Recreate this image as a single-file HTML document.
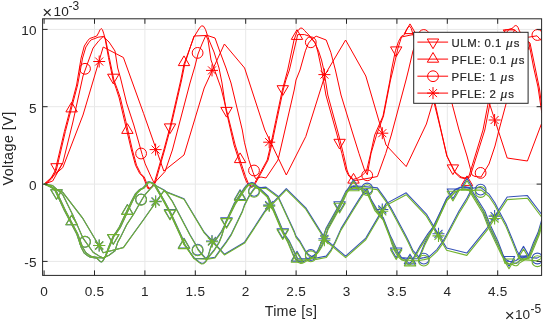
<!DOCTYPE html>
<html><head><meta charset="utf-8"><title>Voltage plot</title>
<style>html,body{margin:0;padding:0;background:#fff;}body{width:550px;height:325px;overflow:hidden;}svg{display:block;filter:blur(0.3px);}</style>
</head><body>
<svg width="550" height="325" viewBox="0 0 550 325">
<rect width="550" height="325" fill="#fff"/>
<g stroke="#e8e8e8" stroke-width="1" fill="none"><line x1="94.5" y1="18.8" x2="94.5" y2="275.4"/><line x1="144.9" y1="18.8" x2="144.9" y2="275.4"/><line x1="195.3" y1="18.8" x2="195.3" y2="275.4"/><line x1="245.7" y1="18.8" x2="245.7" y2="275.4"/><line x1="296.1" y1="18.8" x2="296.1" y2="275.4"/><line x1="346.5" y1="18.8" x2="346.5" y2="275.4"/><line x1="396.9" y1="18.8" x2="396.9" y2="275.4"/><line x1="447.3" y1="18.8" x2="447.3" y2="275.4"/><line x1="497.7" y1="18.8" x2="497.7" y2="275.4"/><line x1="42.6" y1="29.4" x2="541.6" y2="29.4"/><line x1="42.6" y1="106.7" x2="541.6" y2="106.7"/><line x1="42.6" y1="184.1" x2="541.6" y2="184.1"/><line x1="42.6" y1="261.4" x2="541.6" y2="261.4"/></g>
<defs><clipPath id="cp"><rect x="42.6" y="18.8" width="499.0" height="256.59999999999997"/></clipPath></defs>
<g clip-path="url(#cp)">
<g fill="none" stroke="#ff0000" stroke-width="1.0" stroke-linejoin="round"><polyline points="44.0,184.1 47.0,182.5 51.0,178.0 55.2,170.7 64.4,131.4 71.1,105.9 76.6,85.0 81.1,58.0 84.3,46.0 87.4,41.2 89.5,38.6 93.7,37.1 96.8,36.0 98.6,32.8 100.0,29.8 101.2,28.5 102.4,29.6 103.6,33.2 105.0,38.0 108.5,57.7 113.1,80.0 116.2,88.8 119.2,98.0 124.6,121.2 131.4,150.0 135.5,165.2 139.7,173.5 143.2,177.0 145.2,181.9 146.6,186.0 148.0,188.8 150.8,188.0 154.2,183.2 163.8,150.0 170.0,127.0 180.8,80.0 184.0,64.0 188.5,52.0 194.0,37.0 197.0,32.0 199.5,28.0 201.5,25.8 203.5,26.2 205.5,29.5 207.0,34.0 209.0,40.0 214.0,52.0 219.0,68.0 222.0,83.0 226.0,110.0 234.0,145.0 240.1,163.8 244.4,176.7 246.6,182.1 248.7,185.3 251.9,187.5 255.2,182.1 267.2,160.0 270.5,146.0 275.9,120.2 282.3,90.0 285.0,80.0 287.7,70.0 294.0,40.0 296.9,32.0 299.0,29.3 300.8,28.0 302.4,28.3 304.5,30.5 306.9,33.1 310.8,36.9 314.6,42.3 318.5,50.8 321.5,60.0 323.8,70.0 327.8,95.0 338.7,135.0 343.3,153.5 347.0,170.0 348.8,174.7 353.5,179.3 358.0,178.0 362.8,174.9 366.5,171.0 370.3,155.0 374.7,135.0 383.0,116.0 390.0,80.0 391.5,70.0 395.4,50.8 398.5,41.5 401.5,36.2 404.6,34.6 406.5,30.0 408.3,26.8 409.8,26.3 411.3,28.5 414.0,38.0 420.0,60.0 428.0,85.0 435.0,103.0 441.0,130.0 447.0,156.0 455.0,172.0 461.0,177.0 465.0,178.0 469.0,176.0 483.0,130.0 488.0,104.0 496.0,70.0 502.0,45.0 506.0,33.0 509.0,29.5 512.0,28.6 513.6,26.8 515.2,25.6 516.6,25.7 518.0,27.4 519.4,31.0 524.0,37.0 528.8,42.3 533.5,67.0 538.0,87.0 541.8,113.0"/><polyline points="44.0,184.1 47.5,182.8 51.8,178.5 56.2,170.7 65.4,131.4 72.1,105.9 77.6,85.0 82.6,58.0 85.9,47.0 89.0,42.3 91.2,39.8 95.0,38.5 98.0,37.2 103.6,36.5 105.5,39.0 109.3,57.7 113.9,80.0 117.2,88.8 120.4,98.0 125.8,121.2 132.4,150.0 136.5,165.2 140.7,173.5 144.2,177.0 146.2,181.9 147.6,186.0 149.0,188.3 151.8,187.5 155.2,183.0 164.6,150.0 170.8,127.0 181.6,80.0 184.8,64.0 190.0,48.0 194.0,36.0 206.0,35.5 208.0,40.0 211.0,60.0 221.0,88.0 227.0,112.0 235.2,145.0 241.3,163.8 245.6,176.7 247.8,182.1 249.9,185.3 253.0,187.0 256.2,182.1 268.1,160.0 271.4,146.0 276.8,120.2 283.2,90.0 285.9,80.0 289.4,70.0 297.7,34.6 304.6,34.6 309.2,36.2 315.4,43.1 317.9,52.0 321.7,70.0 325.9,95.0 337.1,135.0 341.9,153.5 345.9,170.0 348.8,176.0 353.5,180.5 357.1,180.2 370.0,178.0 377.4,176.5 385.7,153.5 391.3,135.0 406.0,80.0 408.5,70.0 413.0,50.8 417.8,40.7 419.0,37.1 424.6,65.3 434.0,102.3 440.8,130.0 446.8,156.0 454.8,172.5 460.0,177.5 464.0,178.5 470.0,177.0 484.8,130.0 489.8,104.0 497.8,70.0 502.4,46.0 505.0,30.0 512.0,28.8 516.0,31.0 520.0,36.0 530.0,43.0 535.0,67.0 539.5,89.0 541.8,107.0"/><polyline points="44.0,184.1 52.7,181.0 62.8,163.0 72.9,122.0 83.0,76.0 93.1,48.0 98.9,40.7 103.2,36.5 109.0,42.0 115.0,51.0 117.7,68.0 120.5,78.0 126.6,103.0 133.8,125.0 142.2,154.5 145.2,163.9 150.8,176.3 154.2,183.2 165.0,171.5 172.4,150.0 190.0,83.0 195.0,66.0 198.0,54.0 202.0,44.0 206.0,35.0 215.0,38.0 220.0,52.0 226.0,68.0 231.0,83.0 242.3,130.0 244.4,142.2 248.7,159.5 253.0,172.4 255.5,178.5 261.0,177.0 266.0,178.0 278.0,160.0 281.5,145.0 294.2,90.0 296.0,80.0 300.0,70.0 305.4,50.8 308.5,43.1 312.0,39.0 316.2,36.2 326.2,40.0 330.8,52.3 335.4,70.0 341.0,95.0 352.6,133.0 359.0,153.5 364.5,170.0 367.3,174.7 371.0,153.5 376.5,135.0 383.5,116.0 390.5,80.0 393.0,70.0 398.0,48.0 401.5,37.0 409.0,35.4 413.0,34.6 419.0,35.0 424.0,37.0 429.5,39.5 436.9,53.1 443.1,70.3 451.7,102.3 459.0,130.0 467.0,156.0 472.0,175.0 475.0,176.5 481.0,177.0 489.0,164.0 495.0,146.0 499.0,130.0 506.0,104.0 512.0,75.0 517.0,50.0 521.0,38.0 529.1,37.1 537.0,35.8 541.4,40.8"/><polyline points="44.0,184.1 62.8,167.6 83.0,115.0 103.2,47.0 123.4,57.5 143.6,113.5 163.8,171.0 184.0,155.0 204.2,88.0 224.4,44.0 244.6,68.0 264.8,130.0 286.3,175.0 305.8,136.5 325.4,74.0 345.6,40.0 365.8,76.0 386.0,145.0 406.2,166.6 426.4,124.0 446.6,56.0 466.8,46.0 487.0,96.0 507.2,158.0 527.4,161.0 541.4,124.0"/><path d="M50.8,163.7H62.2L56.5,173.4Z"/><path d="M107.6,74.2H119.0L113.3,83.9Z"/><path d="M164.3,123.9H175.7L170.0,133.6Z"/><path d="M220.8,107.4H232.2L226.5,117.1Z"/><path d="M277.1,85.7H288.5L282.8,95.4Z"/><path d="M333.9,139.3H345.3L339.6,149.0Z"/><path d="M390.5,46.9H401.9L396.2,56.6Z"/><path d="M447.2,164.9H458.6L452.9,174.6Z"/><path d="M503.3,29.9H514.7L509.0,39.6Z"/><path d="M65.9,111.9H77.3L71.6,102.2Z"/><path d="M121.7,133.4H133.1L127.4,123.7Z"/><path d="M178.3,65.6H189.7L184.0,55.9Z"/><path d="M234.4,162.6H245.8L240.1,152.9Z"/><path d="M291.3,39.4H302.7L297.0,29.7Z"/><path d="M347.8,183.1H359.2L353.5,173.4Z"/><path d="M404.3,33.6H415.7L410.0,23.9Z"/><path d="M461.3,185.6H472.7L467.0,175.9Z"/><path d="M517.8,49.1H529.2L523.5,39.4Z"/><circle cx="85.0" cy="68.8" r="5.4"/><circle cx="141.1" cy="153.5" r="5.4"/><circle cx="197.6" cy="52.9" r="5.4"/><circle cx="254.0" cy="170.5" r="5.4"/><circle cx="310.8" cy="42.3" r="5.4"/><circle cx="367.2" cy="175.3" r="5.4"/><circle cx="423.8" cy="35.0" r="5.4"/><circle cx="480.6" cy="172.9" r="5.4"/><circle cx="537.4" cy="35.0" r="5.4"/><path d="M93.2,61.5H105.2M99.2,55.5V67.5M95.2,57.5L103.2,65.5M95.2,65.5L103.2,57.5"/><path d="M149.6,149.6H161.6M155.6,143.6V155.6M151.6,145.6L159.6,153.6M151.6,153.6L159.6,145.6"/><path d="M206.0,70.4H218.0M212.0,64.4V76.4M208.0,66.4L216.0,74.4M208.0,74.4L216.0,66.4"/><path d="M263.2,142.2H275.2M269.2,136.2V148.2M265.2,138.2L273.2,146.2M265.2,146.2L273.2,138.2"/><path d="M318.4,74.6H330.4M324.4,68.6V80.6M320.4,70.6L328.4,78.6M320.4,78.6L328.4,70.6"/><path d="M376.3,133.2H388.3M382.3,127.2V139.2M378.3,129.2L386.3,137.2M378.3,137.2L386.3,129.2"/><path d="M432.5,84.5H444.5M438.5,78.5V90.5M434.5,80.5L442.5,88.5M434.5,88.5L442.5,80.5"/><path d="M488.6,120.0H500.6M494.6,114.0V126.0M490.6,116.0L498.6,124.0M490.6,124.0L498.6,116.0"/></g>
<g fill="none" stroke="#3652b8" stroke-width="1.1" stroke-linejoin="round"><polyline points="44.00,184.10 47.00,184.90 51.00,187.15 55.20,190.80 64.40,210.45 71.10,223.20 76.60,233.65 81.10,247.16 84.30,253.17 87.40,255.59 89.50,256.90 93.70,257.68 96.80,258.23 98.60,259.83 100.00,261.33 101.20,261.98 102.40,261.43 103.60,259.63 105.00,257.23 108.50,247.38 113.10,236.23 116.20,231.83 119.20,227.22 124.60,215.62 131.40,201.22 135.50,193.62 139.70,189.47 143.20,187.71 145.20,185.26 146.60,183.21 148.00,181.81 150.80,182.21 154.20,184.61 163.80,201.21 170.00,212.70 180.80,236.20 184.00,244.20 188.50,250.19 194.00,257.69 197.00,260.19 199.50,262.19 201.50,263.29 203.50,263.09 205.50,261.44 207.00,259.19 209.00,256.19 214.00,250.18 219.00,242.18 222.00,234.68 226.00,221.18 234.00,203.67 240.10,194.27 244.40,187.82 246.60,185.12 248.70,183.52 251.90,182.42 255.20,185.12 267.20,196.16 270.50,203.16 275.90,216.06 282.30,231.15 285.00,236.15 287.70,241.15 294.00,256.15 296.90,260.15 299.00,261.50 300.80,262.15 302.40,261.99 304.50,260.89 306.90,259.59 310.80,257.69 314.60,254.99 318.50,250.74 321.50,246.14 323.80,241.14 327.80,228.63 338.70,208.63 343.30,199.38 347.00,191.13 348.80,188.77 353.50,186.47 358.00,187.12 362.80,188.67 366.50,190.62 370.30,198.62 374.70,208.61 383.00,218.11 390.00,236.11 391.50,241.11 395.40,250.70 398.50,255.35 401.50,258.00 404.60,258.80 406.50,261.10 408.30,262.70 409.80,262.95 411.30,261.85 414.00,257.10 420.00,246.09 428.00,233.59 435.00,224.59 441.00,211.08 447.00,198.08 455.00,190.08 461.00,187.58 465.00,187.07 469.00,188.07 483.00,211.07 488.00,224.06 496.00,241.06 502.00,253.56 506.00,259.56 509.00,261.30 512.00,261.75 513.60,262.65 515.20,263.25 516.60,263.20 518.00,262.35 519.40,260.55 524.00,257.55 528.80,254.90 533.50,242.54 538.00,232.54 541.80,219.54"/><polyline points="44.00,184.10 47.50,184.75 51.80,186.90 56.20,190.80 65.40,210.45 72.10,223.20 77.60,233.65 82.60,247.16 85.90,252.68 89.00,255.05 91.20,256.31 95.00,256.99 98.00,257.63 103.60,257.98 105.50,256.73 109.30,247.38 113.90,236.23 117.20,231.83 120.40,227.22 125.80,215.62 132.40,201.22 136.50,193.62 140.70,189.47 144.20,187.71 146.20,185.26 147.60,183.21 149.00,182.06 151.80,182.46 155.20,184.71 164.60,201.20 170.80,212.70 181.60,236.20 184.80,244.20 190.00,252.19 194.00,258.19 206.00,258.44 208.00,256.19 211.00,246.18 221.00,232.18 227.00,220.18 235.20,203.67 241.30,194.27 245.60,187.82 247.80,185.12 249.90,183.52 253.00,182.67 256.20,185.11 268.10,196.16 271.40,203.16 276.80,216.06 283.20,231.15 285.90,236.15 289.40,241.15 297.70,258.85 304.60,258.84 309.20,258.04 315.40,254.59 317.90,250.14 321.70,241.14 325.90,228.63 337.10,208.63 341.90,199.38 345.90,191.13 348.80,188.12 353.50,185.87 357.10,186.02 370.00,187.12 377.40,187.86 385.70,199.36 391.30,208.61 406.00,236.10 408.50,241.10 413.00,250.70 417.80,255.74 419.00,257.54 424.60,243.44 434.00,224.94 440.80,211.08 446.80,198.08 454.80,189.83 460.00,187.33 464.00,186.82 470.00,187.57 484.80,211.07 489.80,224.06 497.80,241.06 502.40,253.06 505.00,261.06 512.00,261.65 516.00,260.55 520.00,258.05 530.00,254.55 535.00,242.54 539.50,231.54 541.80,222.54"/><polyline points="44.00,184.10 52.70,185.65 62.80,194.65 72.90,215.15 83.00,238.17 93.10,252.22 98.90,255.88 103.20,257.98 109.00,255.23 115.00,250.73 117.70,242.23 120.50,237.22 126.60,224.72 133.80,213.72 142.20,198.96 145.20,194.26 150.80,188.06 154.20,184.61 165.00,190.45 172.40,201.20 190.00,234.69 195.00,243.19 198.00,249.19 202.00,254.19 206.00,258.69 215.00,257.18 220.00,250.18 226.00,242.18 231.00,234.68 242.30,211.17 244.40,205.07 248.70,196.42 253.00,189.97 255.50,186.92 261.00,187.66 266.00,187.16 278.00,196.16 281.50,203.65 294.20,231.15 296.00,236.15 300.00,241.15 305.40,250.74 308.50,254.59 312.00,256.64 316.20,258.04 326.20,256.13 330.80,249.98 335.40,241.13 341.00,228.63 352.60,209.62 359.00,199.37 364.50,191.12 367.30,188.77 371.00,199.36 376.50,208.61 383.50,218.11 390.50,236.11 393.00,241.11 398.00,252.10 401.50,257.60 409.00,258.40 413.00,258.80 419.00,258.59 424.00,257.59 429.50,256.34 436.90,249.54 443.10,240.93 451.70,224.93 459.00,211.08 467.00,198.07 472.00,188.57 475.00,187.82 481.00,187.57 489.00,194.06 495.00,203.06 499.00,211.06 506.00,224.06 512.00,238.55 517.00,251.05 521.00,257.05 529.10,257.50 537.00,258.14 541.40,255.64"/><polyline points="44.00,184.10 62.80,192.35 83.00,218.67 103.20,252.73 123.40,247.47 143.60,219.46 163.80,190.71 184.00,198.70 204.20,232.19 224.40,254.18 244.60,242.17 264.80,211.16 286.30,188.65 305.80,207.89 325.40,239.13 345.60,256.13 365.80,238.12 386.00,203.61 406.20,192.80 426.40,214.09 446.60,248.08 466.80,253.07 487.00,228.06 507.20,197.06 527.40,195.55 541.40,214.04"/><path d="M50.8,189.7H62.2L56.5,199.3Z"/><path d="M107.6,234.5H119.0L113.3,244.2Z"/><path d="M164.3,209.6H175.7L170.0,219.3Z"/><path d="M220.8,217.8H232.2L226.5,227.5Z"/><path d="M277.1,228.7H288.5L282.8,238.4Z"/><path d="M333.9,201.8H345.3L339.6,211.5Z"/><path d="M390.5,248.0H401.9L396.2,257.7Z"/><path d="M447.2,189.0H458.6L452.9,198.7Z"/><path d="M503.3,256.5H514.7L509.0,266.2Z"/><path d="M65.9,224.8H77.3L71.6,215.2Z"/><path d="M121.7,214.2H133.1L127.4,204.5Z"/><path d="M178.3,248.0H189.7L184.0,238.3Z"/><path d="M234.4,199.5H245.8L240.1,189.8Z"/><path d="M291.3,261.1H302.7L297.0,251.4Z"/><path d="M347.8,189.2H359.2L353.5,179.5Z"/><path d="M404.3,263.9H415.7L410.0,254.2Z"/><path d="M461.3,187.9H472.7L467.0,178.2Z"/><path d="M517.8,256.1H529.2L523.5,246.4Z"/><circle cx="85.0" cy="241.8" r="5.4"/><circle cx="141.1" cy="199.5" r="5.4"/><circle cx="197.6" cy="249.7" r="5.4"/><circle cx="254.0" cy="190.9" r="5.4"/><circle cx="310.8" cy="255.0" r="5.4"/><circle cx="367.2" cy="188.5" r="5.4"/><circle cx="423.8" cy="258.6" r="5.4"/><circle cx="480.6" cy="189.6" r="5.4"/><circle cx="537.4" cy="258.5" r="5.4"/><path d="M93.2,245.5H105.2M99.2,239.5V251.5M95.2,241.5L103.2,249.5M95.2,249.5L103.2,241.5"/><path d="M149.6,201.4H161.6M155.6,195.4V207.4M151.6,197.4L159.6,205.4M151.6,205.4L159.6,197.4"/><path d="M206.0,241.0H218.0M212.0,235.0V247.0M208.0,237.0L216.0,245.0M208.0,245.0L216.0,237.0"/><path d="M263.2,205.1H275.2M269.2,199.1V211.1M265.2,201.1L273.2,209.1M265.2,209.1L273.2,201.1"/><path d="M318.4,238.8H330.4M324.4,232.8V244.8M320.4,234.8L328.4,242.8M320.4,242.8L328.4,234.8"/><path d="M376.3,209.5H388.3M382.3,203.5V215.5M378.3,205.5L386.3,213.5M378.3,213.5L386.3,205.5"/><path d="M432.5,233.8H444.5M438.5,227.8V239.8M434.5,229.8L442.5,237.8M434.5,237.8L442.5,229.8"/><path d="M488.6,216.1H500.6M494.6,210.1V222.1M490.6,212.1L498.6,220.1M490.6,220.1L498.6,212.1"/></g>
<g fill="none" stroke="#72b32e" stroke-width="1.1" stroke-linejoin="round"><polyline points="44.00,184.10 47.00,184.90 51.00,187.15 55.20,190.80 64.40,210.45 71.10,223.20 76.60,233.65 81.10,247.16 84.30,253.17 87.40,255.59 89.50,256.90 93.70,257.68 96.80,258.25 98.60,259.86 100.00,261.36 101.20,262.02 102.40,261.48 103.60,259.68 105.00,257.29 108.50,247.46 113.10,236.34 116.20,231.96 119.20,227.37 124.60,215.80 131.40,201.44 135.50,193.87 139.70,189.74 143.20,188.01 145.20,185.57 146.60,183.53 148.00,182.14 150.80,182.55 154.20,184.97 163.80,201.63 170.00,213.16 180.80,236.72 184.00,244.74 188.50,250.77 194.00,258.30 197.00,260.81 199.50,262.83 201.50,263.94 203.50,263.75 205.50,262.11 207.00,259.87 209.00,256.88 214.00,250.91 219.00,242.94 222.00,235.46 226.00,221.98 234.00,204.52 240.10,195.16 244.40,188.73 246.60,186.05 248.70,184.46 251.90,183.38 255.20,186.10 267.20,197.21 270.50,204.23 275.90,217.16 282.30,232.30 285.00,237.31 287.70,242.33 294.00,257.37 296.90,261.38 299.00,262.74 300.80,263.40 302.40,263.26 304.50,262.18 306.90,260.89 310.80,259.01 314.60,256.33 318.50,252.11 321.50,247.52 323.80,242.54 327.80,230.06 338.70,210.12 343.30,200.90 347.00,192.67 348.80,190.33 353.50,188.05 358.00,188.73 362.80,190.31 366.50,192.28 370.30,200.30 374.70,210.32 383.00,219.87 390.00,237.91 391.50,242.92 395.40,252.54 398.50,257.21 401.50,259.88 404.60,260.69 406.50,263.01 408.30,264.62 409.80,264.87 411.30,263.78 414.00,259.05 420.00,248.08 428.00,235.63 435.00,226.67 441.00,213.20 447.00,200.24 455.00,192.28 461.00,189.81 465.00,189.34 469.00,190.36 483.00,213.44 488.00,226.47 496.00,243.51 502.00,256.05 506.00,262.07 509.00,263.84 512.00,264.30 513.60,265.21 515.20,265.82 516.60,265.78 518.00,264.94 519.40,263.15 524.00,260.17 528.80,257.55 533.50,245.23 538.00,235.25 541.80,222.27"/><polyline points="44.00,184.10 47.50,184.75 51.80,186.90 56.20,190.80 65.40,210.45 72.10,223.20 77.60,233.65 82.60,247.16 85.90,252.68 89.00,255.05 91.20,256.31 95.00,256.99 98.00,257.65 103.60,258.03 105.50,256.79 109.30,247.47 113.90,236.34 117.20,231.96 120.40,227.38 125.80,215.81 132.40,201.45 136.50,193.87 140.70,189.74 144.20,188.01 146.20,185.58 147.60,183.53 149.00,182.39 151.80,182.81 155.20,185.08 164.60,201.63 170.80,213.17 181.60,236.73 184.80,244.75 190.00,252.77 194.00,258.80 206.00,259.12 208.00,256.88 211.00,246.89 221.00,232.95 227.00,220.99 235.20,204.53 241.30,195.17 245.60,188.74 247.80,186.05 249.90,184.47 253.00,183.63 256.20,186.10 268.10,197.22 271.40,204.24 276.80,217.17 283.20,232.30 285.90,237.32 289.40,242.34 297.70,260.09 304.60,260.13 309.20,259.35 315.40,255.94 317.90,251.50 321.70,242.52 325.90,230.05 337.10,210.11 341.90,200.89 345.90,192.66 348.80,189.68 353.50,187.45 357.10,187.62 370.00,188.80 377.40,189.59 385.70,201.14 391.30,210.42 406.00,238.00 408.50,243.02 413.00,252.64 417.80,257.72 419.00,259.53 424.60,245.46 434.00,227.01 440.80,213.20 446.80,200.23 454.80,192.03 460.00,189.56 464.00,189.08 470.00,189.87 484.80,213.45 489.80,226.48 497.80,243.52 502.40,255.55 505.00,263.56 512.00,264.20 516.00,263.13 520.00,260.65 530.00,257.21 535.00,245.24 539.50,234.26 541.80,225.27"/><polyline points="44.00,184.10 52.70,185.65 62.80,194.65 72.90,215.15 83.00,238.17 93.10,252.22 98.90,255.91 103.20,258.03 109.00,255.31 115.00,250.85 117.70,242.36 120.50,237.38 126.60,224.91 133.80,213.96 142.20,199.25 145.20,194.57 150.80,188.40 154.20,184.97 165.00,190.88 172.40,201.67 190.00,235.27 195.00,243.80 198.00,249.82 202.00,254.84 206.00,259.37 215.00,257.92 220.00,250.95 226.00,242.98 231.00,235.51 242.30,212.07 244.40,205.98 248.70,197.36 253.00,190.93 255.50,187.90 261.00,188.68 266.00,188.21 278.00,197.27 281.50,204.79 294.20,232.37 296.00,237.38 300.00,242.40 305.40,252.03 308.50,255.90 312.00,257.97 316.20,259.39 326.20,257.55 330.80,251.43 335.40,242.60 341.00,230.13 352.60,211.20 359.00,200.99 364.50,192.77 367.30,190.43 371.00,201.05 376.50,210.33 383.50,219.87 390.50,237.91 393.00,242.93 398.00,253.96 401.50,259.48 409.00,260.32 413.00,260.74 419.00,260.58 424.00,259.60 429.50,258.39 436.90,251.63 443.10,243.06 451.70,227.11 459.00,213.30 467.00,200.35 472.00,190.88 475.00,190.14 481.00,189.93 489.00,196.47 495.00,205.51 499.00,213.53 506.00,226.57 512.00,241.10 517.00,253.63 521.00,259.66 529.10,260.15 537.00,260.85 541.40,258.37"/><polyline points="44.00,184.10 62.80,192.35 83.00,218.67 103.20,252.78 123.40,247.65 143.60,219.76 163.80,191.13 184.00,199.24 204.20,232.86 224.40,254.97 244.60,243.09 264.80,212.20 286.30,189.82 305.80,209.18 325.40,240.54 345.60,257.66 365.80,239.77 386.00,205.39 406.20,194.70 426.40,216.12 446.60,250.23 466.80,255.35 487.00,230.46 507.20,199.58 527.40,198.19 541.40,216.77"/><path d="M50.8,189.7H62.2L56.5,199.3Z"/><path d="M107.6,234.6H119.0L113.3,244.3Z"/><path d="M164.3,210.1H175.7L170.0,219.8Z"/><path d="M220.8,218.6H232.2L226.5,228.3Z"/><path d="M277.1,229.8H288.5L282.8,239.5Z"/><path d="M333.9,203.3H345.3L339.6,213.0Z"/><path d="M390.5,249.8H401.9L396.2,259.5Z"/><path d="M447.2,191.2H458.6L452.9,200.9Z"/><path d="M503.3,259.0H514.7L509.0,268.7Z"/><path d="M65.9,224.8H77.3L71.6,215.2Z"/><path d="M121.7,214.4H133.1L127.4,204.7Z"/><path d="M178.3,248.6H189.7L184.0,238.9Z"/><path d="M234.4,200.4H245.8L240.1,190.7Z"/><path d="M291.3,262.3H302.7L297.0,252.6Z"/><path d="M347.8,190.8H359.2L353.5,181.1Z"/><path d="M404.3,265.9H415.7L410.0,256.2Z"/><path d="M461.3,190.2H472.7L467.0,180.5Z"/><path d="M517.8,258.8H529.2L523.5,249.1Z"/><circle cx="85.0" cy="241.8" r="5.4"/><circle cx="141.1" cy="199.7" r="5.4"/><circle cx="197.6" cy="250.4" r="5.4"/><circle cx="254.0" cy="191.9" r="5.4"/><circle cx="310.8" cy="256.3" r="5.4"/><circle cx="367.2" cy="190.1" r="5.4"/><circle cx="423.8" cy="260.6" r="5.4"/><circle cx="480.6" cy="192.0" r="5.4"/><circle cx="537.4" cy="261.2" r="5.4"/><path d="M93.2,245.5H105.2M99.2,239.5V251.5M95.2,241.5L103.2,249.5M95.2,249.5L103.2,241.5"/><path d="M149.6,201.8H161.6M155.6,195.8V207.8M151.6,197.8L159.6,205.8M151.6,205.8L159.6,197.8"/><path d="M206.0,241.7H218.0M212.0,235.7V247.7M208.0,237.7L216.0,245.7M208.0,245.7L216.0,237.7"/><path d="M263.2,206.1H275.2M269.2,200.1V212.1M265.2,202.1L273.2,210.1M265.2,210.1L273.2,202.1"/><path d="M318.4,240.2H330.4M324.4,234.2V246.2M320.4,236.2L328.4,244.2M320.4,244.2L328.4,236.2"/><path d="M376.3,211.3H388.3M382.3,205.3V217.3M378.3,207.3L386.3,215.3M378.3,215.3L386.3,207.3"/><path d="M432.5,235.9H444.5M438.5,229.9V241.9M434.5,231.9L442.5,239.9M434.5,239.9L442.5,231.9"/><path d="M488.6,218.5H500.6M494.6,212.5V224.5M490.6,214.5L498.6,222.5M490.6,222.5L498.6,214.5"/></g>
</g>
<g stroke="#262626" stroke-width="1" fill="none"><path d="M44.1,275.4v-5M44.1,18.8v5"/><path d="M94.5,275.4v-5M94.5,18.8v5"/><path d="M144.9,275.4v-5M144.9,18.8v5"/><path d="M195.3,275.4v-5M195.3,18.8v5"/><path d="M245.7,275.4v-5M245.7,18.8v5"/><path d="M296.1,275.4v-5M296.1,18.8v5"/><path d="M346.5,275.4v-5M346.5,18.8v5"/><path d="M396.9,275.4v-5M396.9,18.8v5"/><path d="M447.3,275.4v-5M447.3,18.8v5"/><path d="M497.7,275.4v-5M497.7,18.8v5"/><path d="M42.6,29.4h5M541.6,29.4h-5"/><path d="M42.6,106.7h5M541.6,106.7h-5"/><path d="M42.6,184.1h5M541.6,184.1h-5"/><path d="M42.6,261.4h5M541.6,261.4h-5"/>
<rect x="42.6" y="18.8" width="499.0" height="256.6"/></g>

<g font-family="Liberation Sans, Arial, sans-serif" font-size="13" fill="#262626">
<text x="36.9" y="35.2" text-anchor="end" font-size="13.6" letter-spacing="0.3">10</text><text x="36.9" y="112.5" text-anchor="end" font-size="13.6" letter-spacing="0.3">5</text><text x="36.9" y="189.9" text-anchor="end" font-size="13.6" letter-spacing="0.3">0</text><text x="36.9" y="267.2" text-anchor="end" font-size="13.6" letter-spacing="0.3">-5</text><text x="44.2" y="295.5" text-anchor="middle" font-size="13.6" letter-spacing="0.3">0</text><text x="94.6" y="295.5" text-anchor="middle" font-size="13.6" letter-spacing="0.3">0.5</text><text x="145.0" y="295.5" text-anchor="middle" font-size="13.6" letter-spacing="0.3">1</text><text x="195.4" y="295.5" text-anchor="middle" font-size="13.6" letter-spacing="0.3">1.5</text><text x="245.8" y="295.5" text-anchor="middle" font-size="13.6" letter-spacing="0.3">2</text><text x="296.2" y="295.5" text-anchor="middle" font-size="13.6" letter-spacing="0.3">2.5</text><text x="346.6" y="295.5" text-anchor="middle" font-size="13.6" letter-spacing="0.3">3</text><text x="397.0" y="295.5" text-anchor="middle" font-size="13.6" letter-spacing="0.3">3.5</text><text x="447.4" y="295.5" text-anchor="middle" font-size="13.6" letter-spacing="0.3">4</text><text x="497.8" y="295.5" text-anchor="middle" font-size="13.6" letter-spacing="0.3">4.5</text>
<text x="42.2" y="18.2" font-size="17">×</text><text x="53.6" y="15.5" font-size="13.6">10</text><text x="68.6" y="9.6" font-size="12">-3</text>
<text x="504.8" y="321" font-size="17">×</text><text x="515" y="318.7" font-size="13.6">10</text><text x="530.6" y="313" font-size="12">-5</text>
<text x="291" y="315.8" text-anchor="middle" font-size="14.3" letter-spacing="0.3">Time [s]</text>
<text transform="translate(13.2,148.5) rotate(-90)" text-anchor="middle" font-size="14.3" letter-spacing="0.45">Voltage [V]</text>
</g>
<!-- legend -->
<rect x="413.7" y="32.3" width="114.4" height="71" fill="#fff" stroke="#262626" stroke-width="1"/>
<g fill="none" stroke="#ff0000" stroke-width="1.0">
<path d="M417.4,42.1H448.1M417.4,59.1H448.1M417.4,76.2H448.1M417.4,93.1H448.1"/>
<path d="M427.3,39.0H438.7L433.0,48.7Z"/><path d="M427.3,62.2H438.7L433.0,52.5Z"/><circle cx="433.0" cy="76.2" r="5.4"/><path d="M427.0,93.1H439.0M433.0,87.1V99.1M429.0,89.1L437.0,97.1M429.0,97.1L437.0,89.1"/>
</g>
<g font-family="Liberation Sans, Arial, sans-serif" font-size="11.4" letter-spacing="0.5" fill="#262626" stroke="#262626" stroke-width="0.2">
<text x="451.6" y="47.1">ULM: 0.1 <tspan dx="0.6" font-family="Liberation Serif, serif" font-style="italic" font-size="13.5">μ</tspan><tspan dx="0.4">s</tspan></text>
<text x="451.6" y="64">PFLE: 0.1 <tspan dx="0.6" font-family="Liberation Serif, serif" font-style="italic" font-size="13.5">μ</tspan><tspan dx="0.4">s</tspan></text>
<text x="451.6" y="80.9">PFLE: 1 <tspan dx="0.6" font-family="Liberation Serif, serif" font-style="italic" font-size="13.5">μ</tspan><tspan dx="0.4">s</tspan></text>
<text x="451.6" y="97.8">PFLE: 2 <tspan dx="0.6" font-family="Liberation Serif, serif" font-style="italic" font-size="13.5">μ</tspan><tspan dx="0.4">s</tspan></text>
</g>
</svg>
</body></html>
